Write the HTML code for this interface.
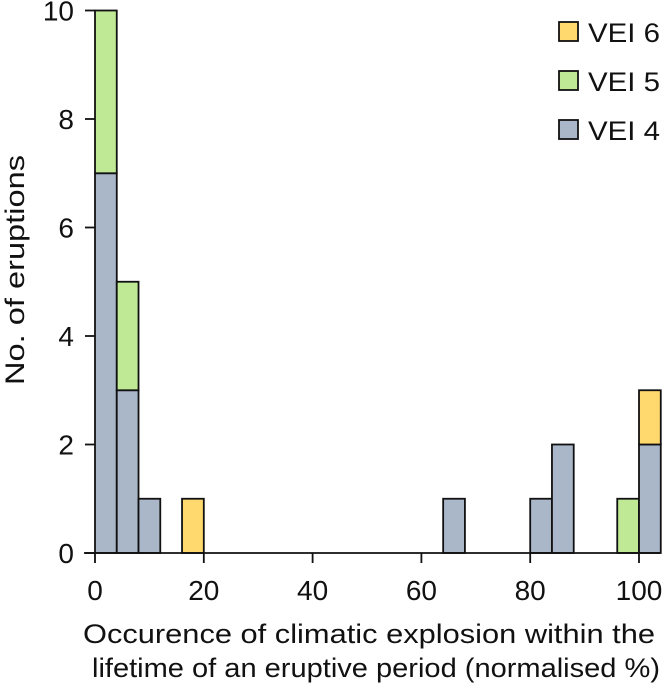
<!DOCTYPE html>
<html><head><meta charset="utf-8"><style>
body{margin:0;background:#fff;}
svg{display:block;font-family:"Liberation Sans",Arial,sans-serif;}
</style></head><body>
<svg id="chart" width="662" height="685"></svg>
<script>
const binStarts=[0,4,8,16,64,80,84,96,100];
const vei4=[7,3,1,0,1,1,2,0,2];
const vei5=[3,2,0,0,0,0,0,1,0];
const vei6=[0,0,0,1,0,0,0,0,1];
const xTicks=[0,20,40,60,80,100];
const yTicks=[0,2,4,6,8,10];
const binWidth=4;
const NS="http://www.w3.org/2000/svg";
const svg=document.getElementById('chart');
const X=v=>95+v*5.44;
const Y=v=>553-v*54.25;
function el(t,a,txt){const e=document.createElementNS(NS,t);for(const k in a)e.setAttribute(k,a[k]);if(txt!==undefined)e.textContent=txt;svg.appendChild(e);return e;}
const colors={vei4:'#aab7c9',vei5:'#bfe995',vei6:'#ffd86e'};
binStarts.forEach((b,i)=>{
  let base=0;
  [['vei4',vei4[i]],['vei5',vei5[i]],['vei6',vei6[i]]].forEach(([k,v])=>{
    if(v>0){
      const r=el('rect',{x:X(b),y:Y(base+v),width:X(b+binWidth)-X(b),height:Y(base)-Y(base+v),fill:colors[k],stroke:'#111','stroke-width':1.8});
      
      
      base+=v;
    }
  });
});
const ax=el('line',{x1:84,x2:660,y1:553,y2:553,stroke:'#111','stroke-width':1.8});


xTicks.forEach(t=>{
  const l=el('line',{x1:X(t),x2:X(t),y1:553,y2:563,stroke:'#111','stroke-width':1.8});
  
  
  const tx=el('text',{x:X(t),y:600,'font-size':28,'text-anchor':'middle',fill:'#111'},String(t));
  
  
});
yTicks.forEach(t=>{
  const l=el('line',{x1:85,x2:95,y1:Y(t),y2:Y(t),stroke:'#111','stroke-width':1.8});
  
  
  const tx=el('text',{x:74,y:Y(t)+10,'font-size':28,'text-anchor':'end',fill:'#111'},String(t));
  
  
});
const t1=el('text',{x:83,y:643,'font-size':27,fill:'#111',textLength:572,lengthAdjust:'spacingAndGlyphs'},'Occurence of climatic explosion within the');


const t2=el('text',{x:92,y:677,'font-size':27,fill:'#111',textLength:568,lengthAdjust:'spacingAndGlyphs'},'lifetime of an eruptive period (normalised %)');


const yt=el('text',{x:0,y:0,'font-size':27,'text-anchor':'middle',fill:'#111',textLength:230,lengthAdjust:'spacingAndGlyphs',transform:'translate(24,270) rotate(-90)'},'No. of eruptions');


[['VEI 6','vei6',22],['VEI 5','vei5',71],['VEI 4','vei4',120]].forEach(([lab,k,y])=>{
  const r=el('rect',{x:559,y:y,width:19,height:19,fill:colors[k],stroke:'#111','stroke-width':1.8});
  
  
  const t=el('text',{x:588,y:y+20,'font-size':27,fill:'#111',textLength:72,lengthAdjust:'spacingAndGlyphs'},lab);
  
  
});
</script>
</body></html>
